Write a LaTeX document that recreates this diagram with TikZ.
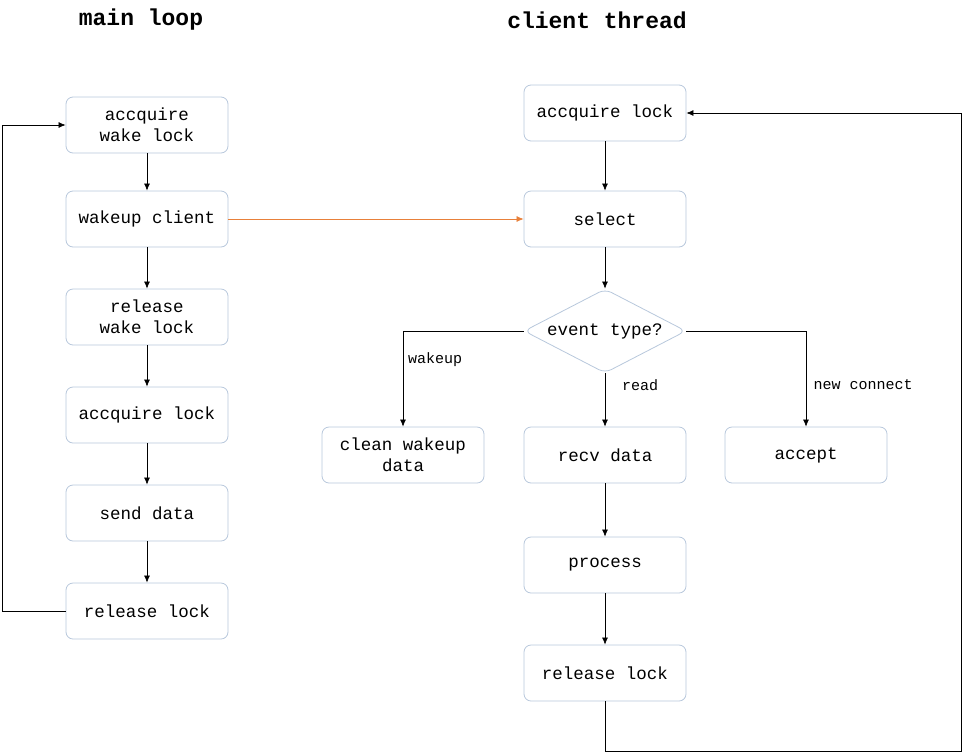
\documentclass[tikz,border=0pt]{standalone}
\usepackage{fontspec}
\setmonofont{Liberation Mono}
\usetikzlibrary{shapes.geometric,positioning,arrows.meta}
\definecolor{boxline}{HTML}{B8C8DC}
\definecolor{orangeline}{HTML}{E8803A}
\tikzstyle{box}=[draw=boxline,line width=0.8pt,rounded corners=7pt,fill=white,
  minimum width=162pt,minimum height=56pt,align=center,inner sep=1pt,
  font=\ttfamily\fontsize{17.5}{21}\selectfont]
\tikzstyle{test}=[box,diamond,aspect=1.93,inner sep=0pt,
  minimum width=162pt,minimum height=84pt]
\tikzstyle{flow}=[-{Latex[length=7pt,width=6pt]},line width=0.7pt]
\tikzstyle{tag}=[font=\ttfamily\fontsize{15}{17}\selectfont]
\tikzstyle{head}=[font=\ttfamily\bfseries\fontsize{23}{26}\selectfont]

\begin{document}
\begin{tikzpicture}[x=1pt,y=-1pt]
  \useasboundingbox (0,0) rectangle (963,753);
  \node[head] at (141,20) {main loop};
  \node[head] at (597,20) {client thread};

  % main loop
  \node[box] (wake) at (147,125) {accquire\\wake lock};
  \node[box] (client) at (147,219) {wakeup client};
  \node[box] (relwake) at (147,317) {release\\wake lock};
  \node[box] (lock) at (147,415) {accquire lock};
  \node[box] (send) at (147,513) {send data};
  \node[box] (unlock) at (147,611) {release lock};
  \draw[flow] (wake) -- (client);
  \draw[flow] (client) -- (relwake);
  \draw[flow] (relwake) -- (lock);
  \draw[flow] (lock) -- (send);
  \draw[flow] (send) -- (unlock);
  \draw[flow] (unlock.west) -- (2,611) -- (2,125) -- (wake.west);

  % client thread
  \node[box] (lock2) at (605,113) {accquire lock};
  \node[box] (select) at (605,219) {select};
  \node[test] (event) at (605,331) {event type?};
  \node[box] (clean) at (403,455) {clean wakeup\\data};
  \node[box] (recv) at (605,455) {recv data};
  \node[box] (accept) at (806,455) {accept};
  \node[box] (proc) at (605,565) {process};
  \node[box] (unlock2) at (605,673) {release lock};
  \draw[flow] (lock2) -- (select);
  \draw[flow] (select) -- (event);
  \draw[flow] (event.west) -| (clean.north);
  \draw[flow] (event) -- (recv);
  \draw[flow] (event.east) -| (accept.north);
  \draw[flow] (recv) -- (proc);
  \draw[flow] (proc) -- (unlock2);
  \draw[flow] (unlock2.south) -- (605,751) -- (961,751) -- (961,113) -- (lock2.east);
  \draw[flow,draw=orangeline,-{Latex[length=7pt,width=6pt,fill=orangeline]}]
    (client) -- (select);

  \node[tag] at (435,360) {wakeup};
  \node[tag] at (640,385) {read};
  \node[tag] at (863,385) {new connect};
\end{tikzpicture}
\end{document}
